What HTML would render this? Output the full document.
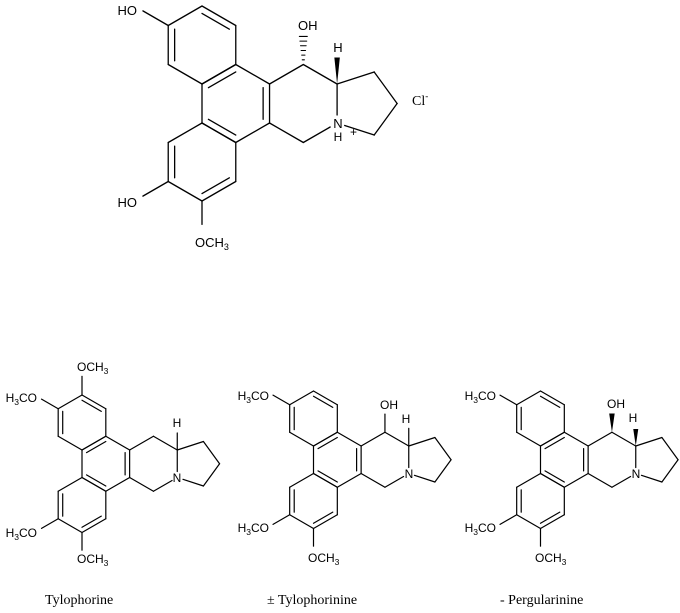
<!DOCTYPE html>
<html><head><meta charset="utf-8"><style>
html,body{margin:0;padding:0;background:#fff;}
svg{display:block;}
.s{font-family:"Liberation Sans",Arial,sans-serif;fill:#000;}
.r{font-family:"Liberation Serif","Times New Roman",serif;fill:#000;}
</style></head><body>
<svg id="g" width="680" height="613" viewBox="0 0 680 613" xmlns="http://www.w3.org/2000/svg">
<g id="lines" stroke="#000" fill="none" stroke-linecap="round"></g>
<g id="fills" fill="#000"></g>
<!-- top molecule labels -->
<text class="s" font-size="13" x="137" y="15" text-anchor="end">HO</text>
<text class="s" font-size="13" x="137" y="207" text-anchor="end">HO</text>
<text class="s" font-size="13" x="195" y="247">OCH<tspan font-size="9" dy="3">3</tspan></text>
<text class="s" font-size="13" x="298" y="30">OH</text>
<text class="s" font-size="13" x="338" y="52" text-anchor="middle">H</text>
<text class="s" font-size="13" x="338" y="128" text-anchor="middle">N</text>
<text class="s" font-size="12" x="338" y="141" text-anchor="middle">H</text>
<text class="s" font-size="12" x="350" y="136">+</text>
<text class="r" font-size="14" x="412" y="105">Cl<tspan font-size="9" dy="-6">-</tspan></text>
<!-- Tylophorine -->
<text class="s" font-size="12" x="77" y="371">OCH<tspan font-size="8.5" dy="3">3</tspan></text>
<text class="s" font-size="12" x="37" y="402" text-anchor="end">H<tspan font-size="8.5" dy="3">3</tspan><tspan dy="-3">CO</tspan></text>
<text class="s" font-size="12" x="37" y="537" text-anchor="end">H<tspan font-size="8.5" dy="3">3</tspan><tspan dy="-3">CO</tspan></text>
<text class="s" font-size="12" x="77" y="563">OCH<tspan font-size="8.5" dy="3">3</tspan></text>
<text class="s" font-size="12" x="177" y="427" text-anchor="middle">H</text>
<text class="s" font-size="12" x="177" y="482" text-anchor="middle">N</text>
<!-- Tylophorinine -->
<text class="s" font-size="12" x="269" y="400" text-anchor="end">H<tspan font-size="8.5" dy="3">3</tspan><tspan dy="-3">CO</tspan></text>
<text class="s" font-size="12" x="269" y="532" text-anchor="end">H<tspan font-size="8.5" dy="3">3</tspan><tspan dy="-3">CO</tspan></text>
<text class="s" font-size="12" x="308" y="562">OCH<tspan font-size="8.5" dy="3">3</tspan></text>
<text class="s" font-size="12" x="380" y="409">OH</text>
<text class="s" font-size="12" x="406" y="423" text-anchor="middle">H</text>
<text class="s" font-size="12" x="409" y="478" text-anchor="middle">N</text>
<!-- Pergularinine -->
<text class="s" font-size="12" x="496" y="400" text-anchor="end">H<tspan font-size="8.5" dy="3">3</tspan><tspan dy="-3">CO</tspan></text>
<text class="s" font-size="12" x="496" y="532" text-anchor="end">H<tspan font-size="8.5" dy="3">3</tspan><tspan dy="-3">CO</tspan></text>
<text class="s" font-size="12" x="535" y="562">OCH<tspan font-size="8.5" dy="3">3</tspan></text>
<text class="s" font-size="12" x="607" y="408">OH</text>
<text class="s" font-size="12" x="633" y="422" text-anchor="middle">H</text>
<text class="s" font-size="12" x="636" y="478" text-anchor="middle">N</text>
<!-- names -->
<text class="r" font-size="14" x="45" y="604">Tylophorine</text>
<text class="r" font-size="14" x="267" y="604">± Tylophorinine</text>
<text class="r" font-size="14" x="500" y="604">- Pergularinine</text>
</svg>
<script>
(function(){
var NS="http://www.w3.org/2000/svg";
var LG=document.getElementById('lines'), FG=document.getElementById('fills');
function ln(a,b,w){var e=document.createElementNS(NS,'line');e.setAttribute('x1',a[0]);e.setAttribute('y1',a[1]);e.setAttribute('x2',b[0]);e.setAttribute('y2',b[1]);e.setAttribute('stroke-width',w);LG.appendChild(e);}
function poly(pts){var e=document.createElementNS(NS,'polygon');e.setAttribute('points',pts.map(function(p){return p[0]+','+p[1];}).join(' '));FG.appendChild(e);}
var dx=[0,.866,.866,0,-.866,-.866], dy=[-1,-.5,.5,1,.5,-.5];
function shorten(a,b,d){var vx=b[0]-a[0],vy=b[1]-a[1],l=Math.hypot(vx,vy);return [b[0]-vx/l*d,b[1]-vy/l*d];}
function wedge(a,b,w){var vx=b[0]-a[0],vy=b[1]-a[1],l=Math.hypot(vx,vy),nx=-vy/l*w/2,ny=vx/l*w/2;poly([a,[b[0]+nx,b[1]+ny],[b[0]-nx,b[1]-ny]]);}
function hash(a,b,w,sw){var n=6;for(var i=1;i<=n;i++){var t=i/n,x=a[0]+(b[0]-a[0])*t,y=a[1]+(b[1]-a[1])*t,vx=b[0]-a[0],vy=b[1]-a[1],l=Math.hypot(vx,vy),h=w/2*t+0.5;ln([x-vy/l*h,y+vx/l*h],[x+vy/l*h,y-vx/l*h],sw);}}
function mol(o){
 var L=o.L,sw=o.sw,ax=o.ax,ay=o.ay;
 var A=[ax,ay],B=[ax+.866*L,ay+1.5*L],C=[ax,ay+3*L],D=[ax+2.598*L,ay+1.5*L];
 function v(c,k){return [c[0]+L*dx[k],c[1]+L*dy[k]];}
 function ring(c){for(var k=0;k<6;k++)ln(v(c,k),v(c,(k+1)%6),sw);}
 function dbl(c,k){var p=v(c,k),q=v(c,(k+1)%6),f=.19;ln([p[0]+(c[0]-p[0])*f,p[1]+(c[1]-p[1])*f],[q[0]+(c[0]-q[0])*f,q[1]+(c[1]-q[1])*f],sw);}
 ring(A);ring(B);ring(C);
 dbl(A,0);dbl(A,4);dbl(B,5);dbl(B,1);dbl(B,3);dbl(C,4);dbl(C,2);
 var N=v(D,2),k1=v(D,1),g=o.gap;
 ln(v(D,0),k1,sw);ln(v(D,3),v(D,4),sw);ln(v(D,5),v(D,0),sw);
 ln(k1,shorten(k1,N,g),sw);ln(v(D,3),shorten(v(D,3),N,g),sw);
 var p1=[k1[0]+.951*L,k1[1]-.309*L],p2=[k1[0]+1.539*L,D[1]],p3=[N[0]+.951*L,N[1]+.309*L];
 ln(k1,p1,sw);ln(p1,p2,sw);ln(p2,p3,sw);ln(p3,shorten(p3,N,g),sw);
 // substituents
 o.subs.forEach(function(s){var c={A:A,C:C,D:D}[s[0]],p=v(c,s[1]),e=[p[0]+s[2]*L,p[1]+s[3]*L];
  if(s[4]==='w')wedge(p,e,s[5]);else if(s[4]==='h')hash(p,e,s[5],sw*0.8);else ln(p,e,sw);});
}
// top
mol({L:39,sw:1.3,ax:202,ay:45,gap:8,subs:[
 ['A',5,-.866*.75,-.5*.75],['C',4,-.866*.75,.5*.75],['C',3,0,.6],
 ['D',0,0,-.72,'h',7],['D',1,0,-.68,'w',5.5]]});
// Tylophorine
mol({L:27.5,sw:1.2,ax:82,ay:422.5,gap:6,subs:[
 ['A',0,0,-.68],['A',5,-.866*.7,-.5*.7],['C',4,-.866*.7,.5*.7],['C',3,0,.64],
 ['D',1,0,-.62]]});
// Tylophorinine
mol({L:27.5,sw:1.2,ax:313.5,ay:418.5,gap:6,subs:[
 ['A',5,-.866*.7,-.5*.7],['C',4,-.866*.7,.5*.7],['C',3,0,.64],
 ['D',0,0,-.66],['D',1,0,-.64]]});
// Pergularinine
mol({L:27.5,sw:1.2,ax:540.5,ay:418.5,gap:6,subs:[
 ['A',5,-.866*.7,-.5*.7],['C',4,-.866*.7,.5*.7],['C',3,0,.64],
 ['D',0,0,-.68,'w',5.5],['D',1,0,-.62,'w',5]]});
})();
</script>
</body></html>
